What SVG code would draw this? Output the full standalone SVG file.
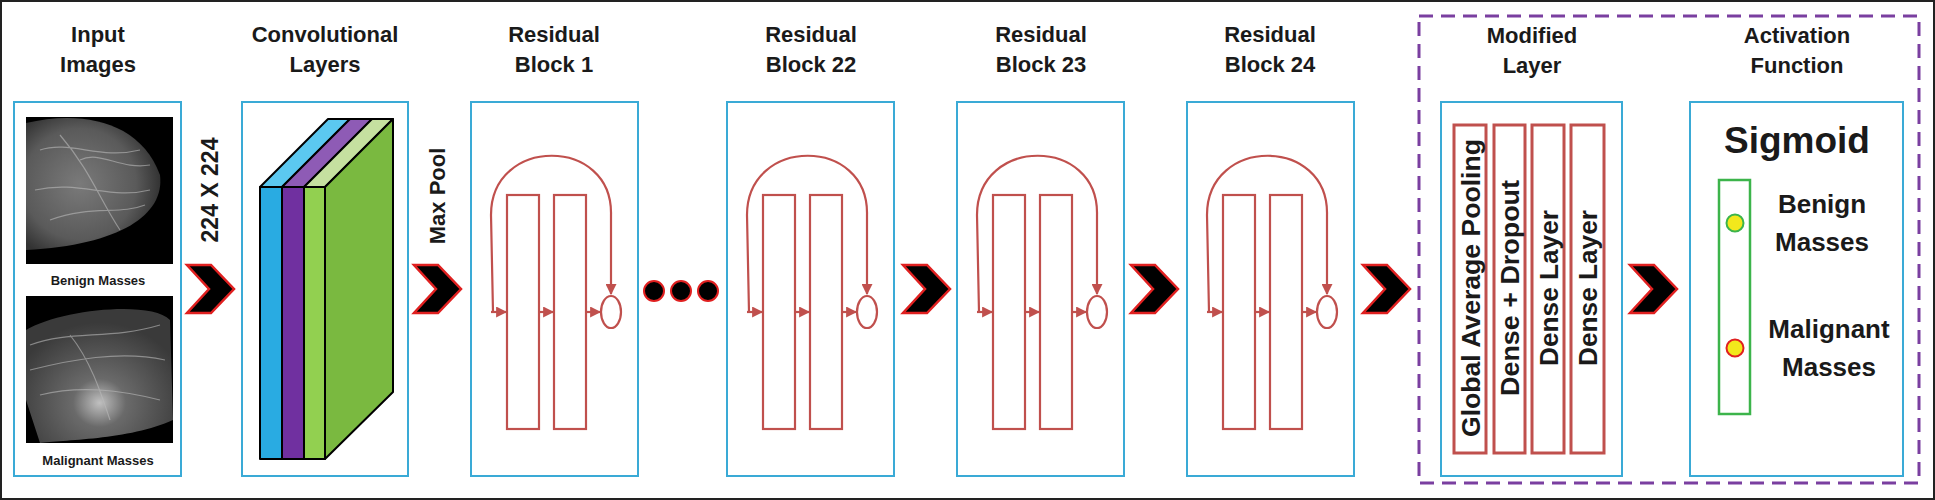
<svg xmlns="http://www.w3.org/2000/svg" width="1935" height="500" viewBox="0 0 1935 500">
<style>
.t{font-family:"Liberation Sans",Arial,sans-serif;font-weight:bold;fill:#1a1a1a;text-anchor:middle}
.title{font-size:22px}
.box{fill:#fff;stroke:#3aaad6;stroke-width:2}
.red{fill:none;stroke:#c0504d;stroke-width:2.2}
.chev{fill:#000;stroke:#e02020;stroke-width:2.5;stroke-linejoin:miter}
.bar{fill:#fff;stroke:#c0504d;stroke-width:3}
.vein{fill:none;stroke:#bbb;stroke-width:1.2;opacity:0.6}
</style>
<defs>
<marker id="ah" viewBox="0 0 10 10" refX="9" refY="5" markerWidth="5" markerHeight="5" orient="auto"><path d="M0,0 L10,5 L0,10 z" fill="#c0504d"/></marker>
<radialGradient id="m1" cx="0.4" cy="0.5" r="0.6"><stop offset="0" stop-color="#7a7a7a"/><stop offset="0.7" stop-color="#5a5a5a"/><stop offset="1" stop-color="#333"/></radialGradient>
<radialGradient id="m2" cx="0.5" cy="0.7" r="0.6"><stop offset="0" stop-color="#c0c0c0"/><stop offset="0.3" stop-color="#6a6a6a"/><stop offset="1" stop-color="#3a3a3a"/></radialGradient>
<g id="res">
<rect x="36" y="195" width="32" height="234" class="red"/>
<rect x="83" y="195" width="32" height="234" class="red"/>
<ellipse cx="140" cy="312" rx="10" ry="16" class="red"/>
<path d="M22,312 L20,215 C20,136 142,136 140,215 L140,294" class="red" marker-end="url(#ah)"/>
<path d="M20,312 L35,312" class="red" marker-end="url(#ah)"/>
<path d="M68,312 L82,312" class="red" marker-end="url(#ah)"/>
<path d="M115,312 L129,312" class="red" marker-end="url(#ah)"/>
</g>
<path id="ch" d="M0,0 L24,0 L47,24 L24,48 L0,48 L22,24 z"/>
</defs>
<rect x="1" y="1" width="1933" height="498" fill="#fff" stroke="#222" stroke-width="2"/>
<rect x="1419" y="16" width="500" height="467" fill="none" stroke="#7a3fa0" stroke-width="3" stroke-dasharray="14,8"/>

<g id="input">
<text class="t title" x="98" y="42">Input</text>
<text class="t title" x="98" y="72">Images</text>
<rect x="14" y="102" width="167" height="374" class="box"/>
<rect x="26" y="117" width="147" height="147" fill="#000"/>
<path d="M26,123 C80,110 140,120 160,175 C165,215 120,245 26,250 z" fill="url(#m1)"/>
<path class="vein" d="M40,150 C70,140 100,160 140,150 M35,190 C80,180 110,200 150,190 M50,220 C90,205 120,215 145,205 M60,135 C90,170 100,200 120,230 M80,160 C100,150 120,170 150,165"/>
<text class="t" x="98" y="285" font-size="13">Benign Masses</text>
<rect x="26" y="296" width="147" height="147" fill="#000"/>
<path d="M26,330 C60,310 150,300 170,320 L173,420 C130,440 60,440 40,443 L26,400 z" fill="url(#m2)"/>
<path class="vein" d="M30,345 C70,330 110,340 160,325 M30,370 C70,360 120,350 165,360 M40,395 C80,385 120,390 160,400 M70,335 C90,360 100,390 110,420"/>
<text class="t" x="98" y="465" font-size="13">Malignant Masses</text>
</g>

<g id="conv">
<text class="t title" x="325" y="42">Convolutional</text>
<text class="t title" x="325" y="72">Layers</text>
<rect x="242" y="102" width="166" height="374" class="box"/>
<g stroke="#000" stroke-width="2" stroke-linejoin="round">
<polygon points="260,187 282,187 350,119 328,119" fill="#5bc8f0"/>
<polygon points="282,187 304,187 372,119 350,119" fill="#8e5bb5"/>
<polygon points="304,187 325,187 393,119 372,119" fill="#c5e0a0"/>
<polygon points="325,187 393,119 393,392 325,459" fill="#7ab940"/>
<rect x="260" y="187" width="22" height="272" fill="#29abe2"/>
<rect x="282" y="187" width="22" height="272" fill="#7030a0"/>
<rect x="304" y="187" width="21" height="272" fill="#92d050"/>
</g>
</g>

<g id="res1">
<text class="t title" x="554" y="42">Residual</text>
<text class="t title" x="554" y="72">Block 1</text>
<rect x="471" y="102" width="167" height="374" class="box"/>
<use href="#res" x="471"/>
</g>
<g id="res22">
<text class="t title" x="811" y="42">Residual</text>
<text class="t title" x="811" y="72">Block 22</text>
<rect x="727" y="102" width="167" height="374" class="box"/>
<use href="#res" x="727"/>
</g>
<g id="res23">
<text class="t title" x="1041" y="42">Residual</text>
<text class="t title" x="1041" y="72">Block 23</text>
<rect x="957" y="102" width="167" height="374" class="box"/>
<use href="#res" x="957"/>
</g>
<g id="res24">
<text class="t title" x="1270" y="42">Residual</text>
<text class="t title" x="1270" y="72">Block 24</text>
<rect x="1187" y="102" width="167" height="374" class="box"/>
<use href="#res" x="1187"/>
</g>

<g id="modified">
<text class="t title" x="1532" y="43">Modified</text>
<text class="t title" x="1532" y="73">Layer</text>
<rect x="1441" y="102" width="181" height="374" class="box"/>
<rect x="1454" y="125" width="32" height="328" class="bar"/>
<rect x="1494" y="125" width="31" height="328" class="bar"/>
<rect x="1532" y="125" width="32" height="328" class="bar"/>
<rect x="1571" y="125" width="33" height="328" class="bar"/>
<g class="t" font-size="26" dominant-baseline="central">
<text transform="translate(1471,288) rotate(-90)" textLength="298" lengthAdjust="spacingAndGlyphs">Global Average Pooling</text>
<text transform="translate(1510,288) rotate(-90)" textLength="216" lengthAdjust="spacingAndGlyphs">Dense + Dropout</text>
<text transform="translate(1549,288) rotate(-90)" textLength="156" lengthAdjust="spacingAndGlyphs">Dense Layer</text>
<text transform="translate(1588,288) rotate(-90)" textLength="156" lengthAdjust="spacingAndGlyphs">Dense Layer</text>
</g>
</g>

<g id="activation">
<text class="t title" x="1797" y="43">Activation</text>
<text class="t title" x="1797" y="73">Function</text>
<rect x="1690" y="102" width="213" height="374" class="box"/>
<text class="t" x="1797" y="153" font-size="37">Sigmoid</text>
<rect x="1719" y="180" width="31" height="234" fill="#fff" stroke="#3cb44b" stroke-width="2.5"/>
<circle cx="1735" cy="223" r="8.5" fill="#f2e81c" stroke="#3cb44b" stroke-width="2"/>
<circle cx="1735" cy="348" r="8.5" fill="#f2e81c" stroke="#e02020" stroke-width="2"/>
<text class="t" x="1822" y="213" font-size="26">Benign</text>
<text class="t" x="1822" y="251" font-size="26">Masses</text>
<text class="t" x="1829" y="338" font-size="26">Malignant</text>
<text class="t" x="1829" y="376" font-size="26">Masses</text>
</g>

<g id="connectors">
<use href="#ch" class="chev" x="187" y="265"/>
<use href="#ch" class="chev" x="414" y="265"/>
<use href="#ch" class="chev" x="903" y="265"/>
<use href="#ch" class="chev" x="1131" y="265"/>
<use href="#ch" class="chev" x="1363" y="265"/>
<use href="#ch" class="chev" x="1630" y="265"/>
<text class="t" font-size="23" transform="translate(210,190) rotate(-90)" dominant-baseline="central">224 X 224</text>
<text class="t" font-size="22" transform="translate(437,196) rotate(-90)" dominant-baseline="central">Max Pool</text>
<g fill="#000" stroke="#e02020" stroke-width="2">
<circle cx="654" cy="291" r="10"/>
<circle cx="681" cy="291" r="10"/>
<circle cx="708" cy="291" r="10"/>
</g>
</g>
</svg>
